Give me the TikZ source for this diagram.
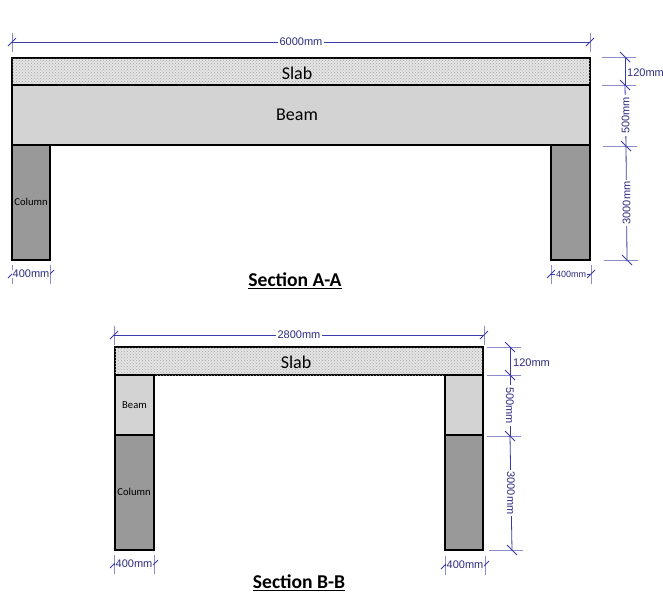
\documentclass[tikz,border=0pt]{standalone}
\usepackage{fontspec}
\setmainfont{Carlito}
\newfontfamily\dimfont{Liberation Sans}
\usetikzlibrary{patterns}
\definecolor{dimblue}{HTML}{3A3AA8}
\definecolor{extblue}{HTML}{8C8CCB}
\definecolor{slabgray}{HTML}{E4E4E4}
\definecolor{beamgray}{HTML}{D3D3D3}
\definecolor{colgray}{HTML}{999999}
\tikzset{
	member/.style={draw=black, line width=1.8pt, inner sep=0pt, outer sep=0pt, text=black},
	slab/.style={member, fill=slabgray, postaction={pattern=crosshatch dots, pattern color=gray!70}},
	beam/.style={member, fill=beamgray},
	column/.style={member, fill=colgray},
	biglabel/.style={inner sep=0pt, font=\fontsize{18}{18}\selectfont},
	smalllabel/.style={inner sep=0pt, font=\fontsize{10.6}{10.6}\selectfont},
	dimline/.style={draw=dimblue, line width=0.8pt},
	extline/.style={draw=extblue, line width=1pt},
	dimlabel/.style={fill=white, text=dimblue!75!black, inner sep=2pt, font=\dimfont\fontsize{11}{11}\selectfont},
	sectiontitle/.style={font=\bfseries\fontsize{19.6}{19.6}\selectfont, inner sep=0pt},
}
\begin{document}
\begin{tikzpicture}[x=1pt,y=-1pt]
\useasboundingbox (0,0) rectangle (663,611);
% section a-a
\node[slab, minimum width=578pt, minimum height=27pt](slabA) at (301,71.5) {};
\node[beam, minimum width=578pt, minimum height=60pt](beamA) at (301,115) {};
\node[column, minimum width=38pt, minimum height=115pt](colA1) at (31,202.5) {};
\node[column, minimum width=39pt, minimum height=115pt](colA2) at (570.5,202.5) {};
\node[biglabel](tSlabA) at (297,73) {Slab};
\node[biglabel](tBeamA) at (297,115) {Beam};
\node[smalllabel](tColA) at (31,202) {Column};
\node[sectiontitle](titleA) at (295,281) {\underline{Section A-A}};
% section b-b
\node[slab, minimum width=368pt, minimum height=28pt](slabB) at (299,361) {};
\node[beam, minimum width=39pt, minimum height=60pt](beamB1) at (134.5,405) {};
\node[beam, minimum width=38pt, minimum height=60pt](beamB2) at (464,405) {};
\node[column, minimum width=39pt, minimum height=115pt](colB1) at (134.5,492.5) {};
\node[column, minimum width=38pt, minimum height=115pt](colB2) at (464,492.5) {};
\node[biglabel](tSlabB) at (296,362) {Slab};
\node[smalllabel](tBeamB) at (134.5,405) {Beam};
\node[smalllabel](tColB) at (134,492) {Column};
\node[sectiontitle](titleB) at (299,583) {\underline{Section B-B}};
% dimension points
\coordinate(a1) at (12,42);
\coordinate(a2) at (590,42);
\coordinate(a3) at (12,274);
\coordinate(a4) at (50,274);
\coordinate(a5) at (551,274);
\coordinate(a6) at (591,274);
\coordinate(r1) at (625,57);
\coordinate(r2) at (625,85);
\coordinate(r3) at (626,146);
\coordinate(r4) at (627,260);
\coordinate(b1) at (114,335);
\coordinate(b2) at (484,335);
\coordinate(b3) at (114,564);
\coordinate(b4) at (154,564);
\coordinate(b5) at (445,565);
\coordinate(b6) at (485,565);
\coordinate(s1) at (510,347);
\coordinate(s2) at (510,375);
\coordinate(s3) at (510,436);
\coordinate(s4) at (512,550);
% witness lines and slashes
\foreach \p in {a1,a2,a3,a4,a5,a6,b1,b2,b3,b4,b5,b6}{
	\draw[extline, shift={(\p)}] (0,-9.5) -- (0,9.5);
	\draw[dimline, shift={(\p)}] (-4,4) -- (4,-4);
}
\foreach \p in {r1,r2,r3,r4,s1,s2,s3,s4}{
	\draw[extline, shift={(\p)}] (-23,0) -- (11,0);
	\draw[dimline, shift={(\p)}] (-5,-5) -- (5,5);
}
% dimension lines
\draw[dimline](a1) -- node[dimlabel](lA1){6000mm} (a2);
\draw[dimline](a3) -- node[dimlabel, inner sep=0.5pt](lA2){400mm} (a4);
\draw[dimline](a5) -- node[dimlabel, inner sep=1pt, font=\dimfont\fontsize{9}{9}\selectfont](lA3){400mm} (a6);
\draw[dimline](b1) -- node[dimlabel](lB1){2800mm} (b2);
\draw[dimline](b3) -- node[dimlabel, inner sep=0.5pt](lB2){400mm} (b4);
\draw[dimline](b5) -- node[dimlabel, inner sep=0.5pt](lB3){400mm} (b6);
\draw[dimline](r1) -- (r2);
\draw[dimline](r2) -- node[dimlabel, rotate=90](lA5){500mm} (r3);
\draw[dimline](r3) -- node[dimlabel, rotate=90](lA6){3000mm} (r4);
\draw[dimline](s1) -- (s2);
\draw[dimline](s2) -- node[dimlabel, rotate=-90](lB5){500mm} (s3);
\draw[dimline](s3) -- node[dimlabel, rotate=-90](lB6){3000mm} (s4);
\node[dimlabel, anchor=west, inner sep=1pt](lA4) at (626,73) {120mm};
\node[dimlabel, anchor=west, inner sep=1pt](lB4) at (512,363) {120mm};
\end{tikzpicture}
\end{document}
